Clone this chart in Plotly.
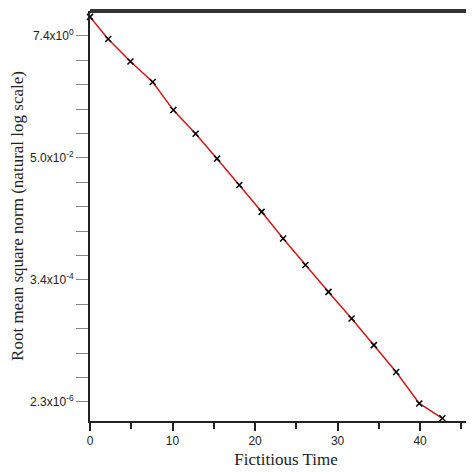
import numpy as np
import plotly.graph_objects as go

# fictitious time and residual (natural log values)
time = [0, 2.2, 4.9, 7.6, 10.1, 12.8, 15.4, 18.1, 20.8, 23.4, 26.1, 28.9, 31.7, 34.4, 37.1, 39.9, 42.7]
ln_rms = [2.78, 1.87, 0.95, 0.11, -1.04, -2.01, -3.03, -4.11, -5.21, -6.30, -7.39, -8.49, -9.58,
          -10.67, -11.77, -13.06, -13.67]
tick_ln = list(range(-13, 3))
tick_labels = {2: "7.4x10<sup>0</sup>", -3: "5.0x10<sup>-2</sup>", -8: "3.4x10<sup>-4</sup>", -13: "2.3x10<sup>-6</sup>"}

rms = np.exp(ln_rms)

fig = go.Figure()
fig.add_trace(go.Scatter(x=time, y=rms, mode='lines+markers', cliponaxis=False,
                         line=dict(color='#d01818', width=1.5),
                         marker=dict(symbol='x-thin', size=6, line=dict(color='black', width=1.5))))

fig.update_layout(
    width=474, height=474, showlegend=False,
    plot_bgcolor='white', paper_bgcolor='white',
    margin=dict(l=82, r=0, t=3, b=61),
    font=dict(family='Liberation Sans', size=12, color='#222'),
)
# thick top border
fig.add_shape(type='line', xref='paper', yref='paper', x0=0, x1=1, y0=1, y1=1,
              line=dict(color='#333', width=4))
fig.update_xaxes(range=[0, 47.5], tickvals=[0, 10, 20, 30, 40], ticks='outside', ticklen=8, tickwidth=2,
                 tickcolor='#222', showgrid=False, zeroline=False, showline=True, linecolor='#222',
                 linewidth=2, automargin=False,
                 minor=dict(tickvals=[5, 15, 25, 35, 45], ticks='outside', ticklen=6, tickwidth=2, tickcolor='#222'),
                 title=dict(text='Fictitious Time', font=dict(family='Liberation Serif', size=17, color='#222'),
                            standoff=6))
fig.update_yaxes(type='log', range=[np.log10(np.exp(-13.78)), np.log10(np.exp(3.02))],
                 tickvals=list(np.exp(tick_ln)), ticktext=[tick_labels.get(k, '') for k in tick_ln],
                 ticks='outside', ticklen=12, tickwidth=1, tickcolor='#888', showgrid=False, zeroline=False,
                 showline=True, linecolor='#222', linewidth=2, automargin=False,
                 title=dict(text='Root mean square norm (natural log scale)',
                            font=dict(family='Liberation Serif', size=17, color='#222'), standoff=4))

fig.write_html("out.html")
